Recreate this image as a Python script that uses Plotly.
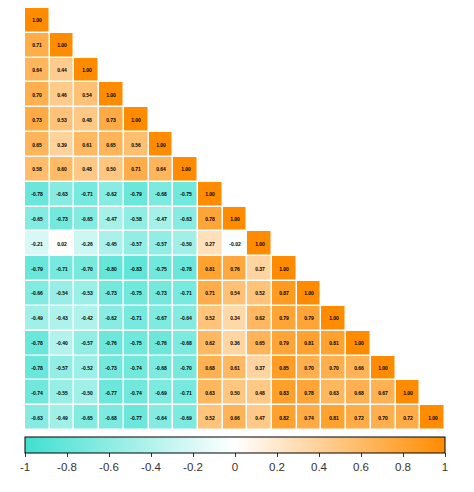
import plotly.graph_objects as go

# Lower-triangular correlation values, row by row
rows = [
    [1.00],
    [0.71, 1.00],
    [0.64, 0.44, 1.00],
    [0.70, 0.46, 0.54, 1.00],
    [0.73, 0.53, 0.48, 0.73, 1.00],
    [0.65, 0.39, 0.61, 0.65, 0.56, 1.00],
    [0.58, 0.60, 0.48, 0.50, 0.71, 0.64, 1.00],
    [-0.78, -0.63, -0.71, -0.62, -0.79, -0.68, -0.75, 1.00],
    [-0.65, -0.73, -0.65, -0.47, -0.58, -0.47, -0.63, 0.78, 1.00],
    [-0.21, 0.02, -0.26, -0.45, -0.57, -0.57, -0.50, 0.27, -0.02, 1.00],
    [-0.79, -0.71, -0.70, -0.80, -0.83, -0.75, -0.78, 0.81, 0.76, 0.37, 1.00],
    [-0.66, -0.54, -0.53, -0.73, -0.75, -0.73, -0.71, 0.71, 0.54, 0.52, 0.87, 1.00],
    [-0.49, -0.43, -0.42, -0.62, -0.71, -0.67, -0.64, 0.52, 0.34, 0.62, 0.79, 0.79, 1.00],
    [-0.78, -0.40, -0.57, -0.76, -0.75, -0.76, -0.68, 0.62, 0.36, 0.65, 0.79, 0.81, 0.81, 1.00],
    [-0.78, -0.57, -0.52, -0.73, -0.74, -0.68, -0.70, 0.68, 0.61, 0.37, 0.85, 0.70, 0.70, 0.66, 1.00],
    [-0.74, -0.55, -0.50, -0.77, -0.74, -0.69, -0.71, 0.63, 0.50, 0.48, 0.83, 0.78, 0.63, 0.68, 0.67, 1.00],
    [-0.63, -0.49, -0.65, -0.68, -0.77, -0.64, -0.69, 0.52, 0.66, 0.47, 0.82, 0.74, 0.81, 0.72, 0.70, 0.72, 1.00],
]

tick_vals = [-1, -0.8, -0.6, -0.4, -0.2, 0, 0.2, 0.4, 0.6, 0.8, 1]
tick_text = ["-1", "-0.8", "-0.6", "-0.4", "-0.2", "0", "0.2", "0.4", "0.6", "0.8", "1"]

n = len(rows)
z = [r + [None] * (n - len(r)) for r in rows]
idx = list(range(n))

fig = go.Figure(go.Heatmap(
    z=z, x=idx, y=idx,
    zmin=-1, zmax=1,
    colorscale=[[0, "#40E0D0"], [0.5, "#FFFFFF"], [1, "#FF8C00"]],
    xgap=1.5, ygap=1.5,
    texttemplate="%{z:.2f}",
    textfont=dict(size=5, color="black", family="Liberation Sans", weight="bold"),
    hoverongaps=False,
    colorbar=dict(
        orientation="h",
        x=0, xanchor="left", len=1, lenmode="fraction",
        y=-0.017, yanchor="top",
        thickness=16,
        xpad=0, ypad=0,
        outlinewidth=1, outlinecolor="black",
        tickmode="array", tickvals=tick_vals, ticktext=tick_text,
        ticks="outside", ticklen=4, tickcolor="#333333",
        tickfont=dict(size=11.5, color="#333333", family="Liberation Sans"),
    ),
))

fig.update_xaxes(range=[-0.5, n - 0.5], showticklabels=False, showgrid=False,
                 zeroline=False, showline=False, ticks="")
fig.update_yaxes(range=[n - 0.5, -0.5], showticklabels=False, showgrid=False,
                 zeroline=False, showline=False, ticks="")

fig.update_layout(
    width=474, height=492,
    margin=dict(l=17, r=37, t=0, b=70),
    plot_bgcolor="white", paper_bgcolor="white",
)

fig.write_html("out.html")
